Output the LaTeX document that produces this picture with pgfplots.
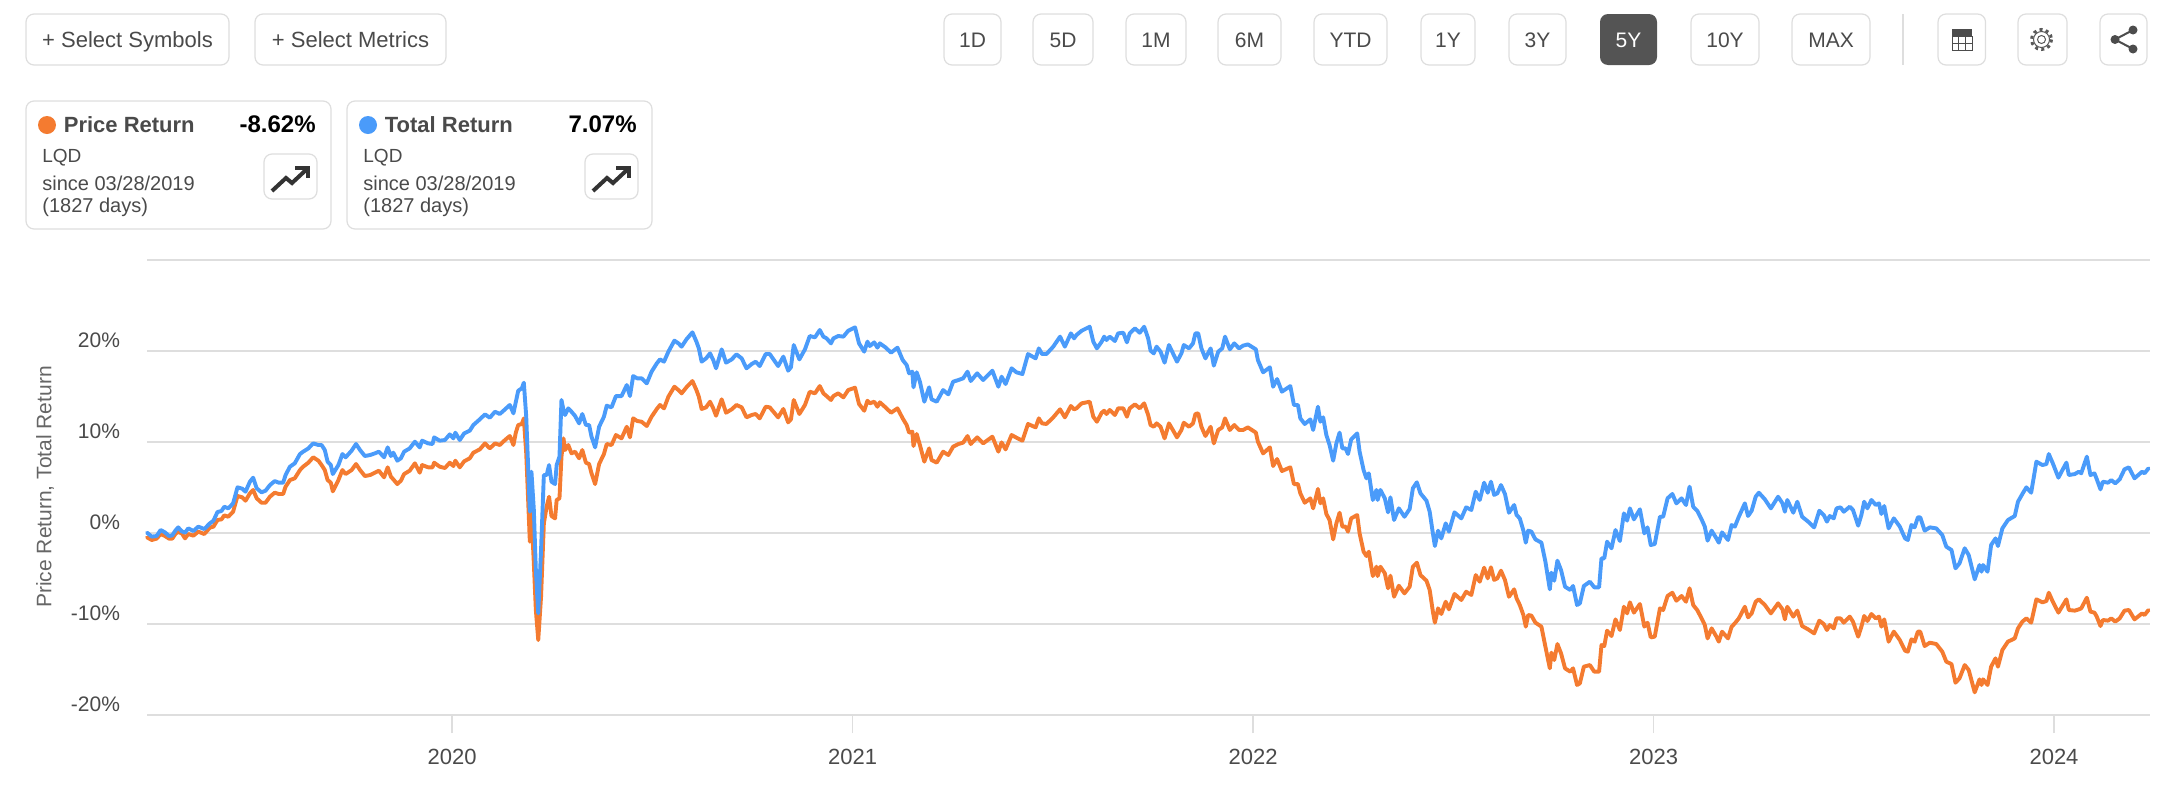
\documentclass[border=0pt]{standalone}
\usepackage{pgfplots}
\usepackage{pgfplotstable}
\usepackage{fontspec}
\setmainfont{Liberation Sans}
\pgfplotsset{compat=1.18}
\definecolor{txt}{HTML}{4A4A4A}
\definecolor{bord}{HTML}{DEDEDE}
\definecolor{ora}{HTML}{F47B30}
\definecolor{blu}{HTML}{4A9BFA}
\newcommand{\fs}[1]{\fontsize{#1}{#1}\selectfont}
\pgfplotstableread{
yr blue orange
2019.238 0.04 -0.48
2019.250 -0.40 -0.77
2019.262 -0.33 -0.62
2019.272 0.33 -0.11
2019.283 0.07 -0.33
2019.293 -0.33 -0.62
2019.301 -0.26 -0.62
2019.310 0.33 -0.04
2019.316 0.62 0.11
2019.325 0.18 -0.04
2019.333 0.04 -0.59
2019.341 0.51 -0.11
2019.354 0.22 -0.29
2019.366 0.70 0.15
2019.381 0.44 -0.11
2019.395 1.06 0.59
2019.404 1.36 0.70
2019.414 2.31 1.43
2019.424 2.42 1.50
2019.431 2.89 1.94
2019.441 2.71 1.79
2019.453 3.26 2.34
2019.464 5.02 4.07
2019.476 4.87 3.92
2019.484 4.54 3.55
2019.495 5.64 4.36
2019.503 6.08 4.73
2019.512 4.91 3.81
2019.524 4.47 3.33
2019.534 4.65 3.33
2019.545 5.27 3.99
2019.557 5.71 4.43
2019.567 5.53 4.29
2019.578 5.53 4.29
2019.584 6.37 5.09
2019.595 7.29 5.82
2019.607 7.66 6.01
2019.620 8.68 6.92
2019.628 8.94 7.29
2019.641 9.30 7.73
2019.653 9.85 8.32
2019.666 9.67 7.95
2019.674 9.67 7.47
2019.682 9.12 6.92
2019.689 7.84 5.82
2019.697 7.47 5.53
2019.702 6.48 4.58
2019.716 7.47 5.82
2019.726 8.68 6.92
2019.734 8.32 6.48
2019.749 9.05 6.92
2019.760 9.78 7.58
2019.770 9.12 6.92
2019.782 8.46 6.26
2019.795 8.57 6.37
2019.807 8.75 6.63
2019.817 8.94 6.85
2019.830 8.32 6.12
2019.839 9.41 7.22
2019.847 8.46 6.19
2019.853 8.83 5.90
2019.863 7.95 5.38
2019.872 8.21 5.75
2019.880 8.94 6.48
2019.894 9.30 6.85
2019.907 10.04 7.66
2019.919 9.41 6.63
2019.925 10.15 7.47
2019.940 9.85 7.22
2019.951 9.78 7.22
2019.955 10.51 7.73
2019.969 10.15 7.29
2019.982 10.22 7.14
2019.994 10.84 7.73
2020.003 10.40 7.36
2020.008 11.03 7.95
2020.019 10.22 7.22
2020.030 10.95 7.88
2020.044 11.25 8.21
2020.053 11.87 8.83
2020.069 12.49 9.19
2020.082 13.04 9.85
2020.094 12.67 9.30
2020.107 13.33 9.85
2020.119 13.08 9.67
2020.132 13.59 10.22
2020.144 14.07 10.66
2020.153 13.15 9.67
2020.159 14.40 11.03
2020.165 15.64 11.87
2020.174 15.90 11.98
2020.179 16.52 12.60
2020.185 12.78 8.75
2020.194 2.34 -0.95
2020.198 6.74 2.16
2020.204 2.53 -3.33
2020.209 -4.07 -8.46
2020.215 -8.83 -11.76
2020.222 -1.87 -7.00
2020.229 6.37 1.06
2020.236 6.37 2.89
2020.242 7.47 3.99
2020.248 5.64 1.87
2020.257 5.38 1.61
2020.261 7.47 3.63
2020.268 8.39 3.81
2020.273 14.62 8.39
2020.278 13.52 10.40
2020.282 12.97 9.12
2020.290 13.70 9.67
2020.298 13.33 8.75
2020.307 12.86 8.94
2020.317 12.05 8.21
2020.325 13.08 9.12
2020.334 11.87 7.73
2020.342 11.87 7.58
2020.348 10.59 6.56
2020.357 9.41 5.38
2020.367 11.68 7.58
2020.379 12.78 8.68
2020.386 13.99 9.78
2020.398 13.81 9.67
2020.409 15.05 10.77
2020.423 15.05 10.40
2020.436 16.26 11.68
2020.444 15.05 10.51
2020.452 17.25 12.60
2020.462 17.00 12.31
2020.473 17.00 12.23
2020.486 16.45 11.76
2020.498 17.73 12.78
2020.511 18.64 13.63
2020.519 19.08 14.07
2020.529 18.83 13.70
2020.540 19.93 14.98
2020.555 21.14 16.08
2020.565 20.84 15.71
2020.573 20.48 15.35
2020.585 21.28 16.01
2020.600 22.05 16.70
2020.610 21.03 15.71
2020.616 20.29 14.98
2020.623 18.83 13.63
2020.634 19.19 13.81
2020.644 19.74 14.43
2020.652 19.01 13.70
2020.659 18.10 12.89
2020.673 20.18 14.69
2020.684 18.72 13.22
2020.698 19.08 13.59
2020.710 19.63 14.07
2020.723 19.19 13.81
2020.735 18.10 12.71
2020.748 18.57 12.97
2020.758 18.83 13.08
2020.768 18.35 12.60
2020.783 19.67 13.88
2020.793 19.67 13.81
2020.814 18.35 12.71
2020.827 19.38 13.63
2020.839 17.84 12.16
2020.846 18.21 12.49
2020.853 20.66 14.62
2020.867 19.08 13.08
2020.881 20.18 14.07
2020.893 21.65 15.53
2020.906 21.50 15.35
2020.918 22.31 16.15
2020.927 21.58 15.35
2020.935 21.39 15.05
2020.946 20.84 14.62
2020.952 21.39 15.05
2020.964 21.65 15.35
2020.977 21.58 14.91
2020.989 22.23 15.71
2021.006 22.60 15.97
2021.016 20.84 14.18
2021.029 19.93 13.44
2021.037 21.03 14.54
2021.043 20.55 14.25
2021.054 20.95 14.43
2021.062 20.37 13.88
2021.068 20.84 14.36
2021.082 20.40 13.81
2021.096 19.82 13.22
2021.112 20.37 13.70
2021.125 19.01 12.60
2021.135 18.46 11.87
2021.141 17.55 11.03
2021.149 17.73 11.14
2021.152 16.01 9.56
2021.160 17.66 10.88
2021.168 16.63 9.67
2021.179 14.43 7.84
2021.191 16.01 9.30
2021.197 14.69 8.02
2021.210 14.43 7.73
2021.226 15.71 8.94
2021.239 15.24 8.57
2021.251 16.63 9.49
2021.264 16.81 9.78
2021.276 17.00 9.93
2021.287 17.73 10.66
2021.295 16.70 9.78
2021.311 17.55 10.51
2021.326 16.81 9.85
2021.349 17.84 10.59
2021.364 16.08 8.94
2021.372 17.18 9.96
2021.382 16.37 9.19
2021.397 18.10 10.77
2021.409 17.66 10.48
2021.424 17.47 10.15
2021.438 19.67 11.98
2021.457 19.19 11.61
2021.465 20.29 12.60
2021.473 19.67 12.05
2021.484 19.67 11.98
2021.501 20.48 12.71
2021.518 21.58 13.59
2021.530 20.48 12.71
2021.545 21.94 13.96
2021.553 21.39 13.59
2021.559 21.76 13.70
2021.572 22.23 14.25
2021.592 22.67 14.43
2021.601 21.03 12.78
2021.610 20.29 12.23
2021.622 21.03 13.22
2021.628 21.58 13.44
2021.634 21.21 13.08
2021.642 21.58 13.52
2021.655 21.10 12.97
2021.663 21.94 13.70
2021.676 22.01 13.70
2021.685 20.95 12.78
2021.692 21.94 13.70
2021.705 22.49 14.14
2021.717 22.01 13.70
2021.728 22.67 14.25
2021.738 21.39 12.97
2021.744 20.04 11.87
2021.752 19.74 11.68
2021.759 20.48 12.05
2021.769 19.93 11.68
2021.779 18.72 10.40
2021.790 20.66 12.05
2021.802 19.56 11.14
2021.810 18.83 10.51
2021.821 19.74 11.32
2021.827 20.66 12.12
2021.840 20.29 11.68
2021.850 20.84 12.05
2021.856 21.94 13.08
2021.863 21.94 13.15
2021.871 20.29 11.68
2021.881 19.19 10.66
2021.894 20.29 11.68
2021.902 18.39 9.85
2021.913 19.93 11.32
2021.923 20.29 11.61
2021.930 21.58 12.60
2021.942 20.18 11.32
2021.953 20.84 11.87
2021.965 20.29 11.32
2021.975 20.59 11.32
2021.987 20.73 11.61
2022.007 20.18 11.03
2022.012 19.01 10.04
2022.025 17.66 8.75
2022.042 18.21 9.41
2022.050 16.08 7.36
2022.060 16.92 8.13
2022.072 15.53 6.81
2022.093 16.15 7.22
2022.102 14.07 5.38
2022.112 14.07 5.38
2022.118 12.60 4.36
2022.129 11.98 3.33
2022.143 12.49 3.81
2022.150 11.32 2.71
2022.162 13.88 4.84
2022.168 12.23 3.26
2022.175 12.71 3.81
2022.183 10.77 2.09
2022.191 9.67 1.43
2022.200 7.95 -0.70
2022.208 9.85 1.06
2022.216 11.03 2.23
2022.223 9.30 0.70
2022.231 9.30 0.70
2022.237 8.68 0.15
2022.245 10.29 1.61
2022.260 10.95 1.98
2022.266 8.94 -0.04
2022.276 6.92 -2.05
2022.283 6.01 -2.53
2022.289 6.56 -2.05
2022.299 3.63 -4.73
2022.308 4.73 -3.70
2022.311 3.63 -4.73
2022.318 4.73 -3.70
2022.329 3.81 -4.43
2022.337 2.27 -6.08
2022.343 3.92 -4.69
2022.352 1.43 -7.00
2022.364 2.71 -5.79
2022.378 1.79 -6.63
2022.391 2.64 -5.90
2022.399 4.91 -3.70
2022.409 5.57 -3.26
2022.418 4.36 -4.62
2022.433 3.55 -5.24
2022.441 2.34 -6.26
2022.449 -0.04 -8.64
2022.454 -1.43 -9.85
2022.462 0.26 -8.28
2022.470 -0.59 -8.90
2022.481 1.06 -7.55
2022.489 0.15 -8.39
2022.503 2.27 -6.70
2022.520 1.61 -7.36
2022.532 2.82 -6.45
2022.545 2.53 -6.81
2022.556 4.54 -4.62
2022.566 3.63 -5.35
2022.577 5.53 -3.81
2022.586 4.43 -4.98
2022.594 5.64 -3.77
2022.602 4.18 -5.16
2022.610 4.36 -4.98
2022.619 5.27 -4.14
2022.629 4.29 -5.16
2022.639 2.23 -7.00
2022.652 3.08 -6.19
2022.658 1.98 -7.18
2022.666 1.61 -7.91
2022.675 0.26 -9.01
2022.681 -1.06 -10.29
2022.687 0.26 -9.01
2022.695 0.15 -9.08
2022.705 -0.70 -9.85
2022.720 -1.06 -10.29
2022.730 -3.15 -12.49
2022.741 -6.19 -14.87
2022.745 -4.36 -13.15
2022.752 -5.24 -13.96
2022.760 -3.04 -12.20
2022.769 -4.07 -13.22
2022.779 -5.90 -14.87
2022.792 -6.26 -15.24
2022.799 -5.82 -14.87
2022.809 -7.91 -16.70
2022.816 -7.73 -16.52
2022.826 -5.82 -14.69
2022.841 -5.35 -14.51
2022.852 -5.97 -15.24
2022.864 -5.97 -15.24
2022.870 -2.78 -12.31
2022.877 -2.78 -12.42
2022.884 -0.95 -10.73
2022.895 -1.68 -11.32
2022.905 0.33 -9.49
2022.916 -0.88 -10.66
2022.926 2.16 -8.10
2022.934 1.36 -8.83
2022.941 2.71 -7.62
2022.951 1.50 -8.75
2022.966 2.60 -7.80
2022.977 -0.04 -10.29
2022.985 0.62 -9.85
2022.993 -1.32 -11.47
2023.003 -1.21 -11.39
2023.016 1.79 -8.28
2023.024 1.79 -8.46
2023.035 3.81 -6.92
2023.047 4.29 -6.56
2023.057 3.26 -7.44
2023.070 3.81 -6.92
2023.081 3.08 -7.55
2023.090 5.09 -6.08
2023.099 2.89 -7.91
2023.109 2.45 -8.46
2023.120 1.50 -9.38
2023.128 0.70 -10.11
2023.135 -0.84 -11.58
2023.145 0.26 -10.48
2023.157 -0.59 -11.39
2023.163 -1.06 -11.94
2023.171 0.07 -10.84
2023.186 -0.77 -11.58
2023.195 0.88 -10.29
2023.203 0.70 -9.93
2023.213 1.79 -9.38
2023.228 3.26 -8.10
2023.236 1.87 -9.27
2023.245 2.45 -8.83
2023.255 3.99 -7.55
2023.263 4.43 -7.29
2023.278 3.70 -7.91
2023.293 2.71 -8.83
2023.311 3.99 -7.73
2023.322 3.26 -8.39
2023.328 2.34 -9.49
2023.334 3.63 -8.10
2023.349 2.23 -9.19
2023.359 3.44 -8.53
2023.371 1.79 -10.22
2023.386 1.25 -10.59
2023.401 0.62 -11.03
2023.414 2.45 -9.63
2023.425 1.98 -10.00
2023.433 1.25 -10.66
2023.440 1.87 -10.11
2023.450 1.61 -10.48
2023.457 2.71 -9.38
2023.467 2.82 -9.38
2023.475 2.34 -9.85
2023.490 2.89 -9.19
2023.498 2.53 -9.74
2023.511 0.81 -11.39
2023.519 1.98 -10.29
2023.526 3.44 -9.12
2023.534 2.71 -9.67
2023.544 3.63 -8.90
2023.555 3.08 -9.38
2023.563 3.26 -9.19
2023.569 2.09 -10.29
2023.576 2.97 -9.49
2023.587 0.51 -11.94
2023.600 1.61 -10.84
2023.615 0.70 -11.76
2023.628 -0.59 -12.93
2023.635 -0.77 -13.04
2023.644 0.88 -11.68
2023.652 0.62 -11.94
2023.660 1.72 -10.84
2023.666 1.72 -10.84
2023.677 0.26 -12.42
2023.690 0.62 -12.05
2023.706 0.51 -12.20
2023.721 -0.22 -13.04
2023.731 -1.50 -14.14
2023.744 -1.87 -14.40
2023.754 -3.88 -16.45
2023.764 -3.33 -15.97
2023.777 -1.68 -14.51
2023.787 -2.42 -15.05
2023.802 -5.09 -17.51
2023.814 -3.52 -16.08
2023.819 -4.25 -16.70
2023.823 -3.52 -16.08
2023.834 -4.25 -16.70
2023.843 -1.32 -14.69
2023.854 -0.59 -13.77
2023.860 -1.43 -14.69
2023.871 0.51 -12.86
2023.885 1.43 -11.94
2023.902 1.87 -11.58
2023.910 3.44 -10.48
2023.921 4.29 -9.74
2023.931 5.02 -9.38
2023.943 4.43 -9.85
2023.956 7.84 -7.29
2023.971 7.47 -7.62
2023.981 7.58 -7.47
2023.987 8.68 -6.56
2023.997 7.66 -7.55
2024.011 6.08 -8.75
2024.021 6.92 -8.02
2024.031 7.73 -7.29
2024.037 6.37 -8.46
2024.052 6.48 -8.53
2024.062 6.74 -8.39
2024.068 6.56 -8.28
2024.082 8.39 -7.11
2024.091 6.37 -8.64
2024.101 6.56 -8.75
2024.106 6.01 -9.12
2024.116 4.80 -10.22
2024.122 5.64 -9.56
2024.135 5.53 -9.63
2024.143 5.82 -9.38
2024.153 5.46 -9.74
2024.164 5.90 -9.38
2024.176 7.00 -8.53
2024.187 7.22 -8.46
2024.201 6.01 -9.49
2024.220 6.74 -8.83
2024.226 6.56 -9.01
2024.236 7.11 -8.46
}\lqddata
\begin{document}
\begin{tikzpicture}[x=0.5pt,y=-0.5pt,
  btn/.style={draw=bord,line width=0.6pt,rounded corners=4pt,fill=white},
  lab/.style={inner sep=0pt,text=txt}]
\path[use as bounding box] (0,0) rectangle (2174,788);
% top-left buttons
\draw[btn] (26,14) rectangle (229,65);
\node[lab,anchor=base,font=\fs{11}] at (127.5,47) {+ Select Symbols};
\draw[btn] (255,14) rectangle (446,65);
\node[lab,anchor=base,font=\fs{11}] at (350.5,47) {+ Select Metrics};
% range buttons
\foreach \a/\b/\t in {944/1001/1D,1033/1093/5D,1126/1186/1M,1218/1281/6M,1314/1387/YTD,1421/1475/1Y,1509/1566/3Y,1691/1759/10Y,1792/1870/MAX}{
  \draw[btn] (\a,14) rectangle (\b,65);
  \node[lab,anchor=base,font=\fs{10.5}] at ({(\a+\b)/2},47) {\t};
}
\fill[rounded corners=4pt,fill=black!67] (1600,14) rectangle (1657,65);
\node[inner sep=0pt,anchor=base,text=white,font=\fs{10.5}] at (1628.5,47) {5Y};
\draw[bord,line width=0.7pt] (1903,14) -- (1903,65);
\draw[btn] (1938,14) rectangle (1985.5,65);
\draw[btn] (2018,14) rectangle (2067,65);
\draw[btn] (2100,14) rectangle (2147,65);
% table icon
\fill[black!70] (1952,29) rectangle (1972,36);
\draw[black!70,line width=0.5pt] (1952,36) rectangle (1972,50) (1958.7,36)--(1958.7,50) (1965.3,36)--(1965.3,50) (1952,43)--(1972,43);
% gear icon
\draw[black!65,line width=0.5pt] (2041.5,39.5) circle (4);
\draw[black!65,line width=0.5pt] (2041.5,39.5) circle (8);
\draw[black!65,line width=1.5pt,dash pattern=on 1.5pt off 1.7pt] (2041.5,39.5) circle (10);
% share icon
\draw[black!70,line width=1pt] (2133,30)--(2115,39.5)--(2133,49);
\fill[black!70] (2133,30) circle (4.5) (2115,39.5) circle (4.5) (2133,49) circle (4.5);
% cards
\foreach \o/\title/\val/\col in {0/Price Return/-8.62\%/ora,321/Total Return/7.07\%/blu}{
  \begin{scope}[xshift=\o*0.5pt]
  \draw[btn] (26,101) rectangle (331,229);
  \fill[\col] (47,125) circle (9);
  \node[anchor=base west,lab,font=\fs{11}\bfseries] at (63.5,132) {\title};
  \node[anchor=base east,inner sep=0pt,text=black,font=\fs{12}\bfseries] at (316,132) {\val};
  \node[anchor=base west,lab,font=\fs{9.5}] at (42,162) {LQD};
  \node[anchor=base west,lab,font=\fs{10}] at (42,190) {since 03/28/2019};
  \node[anchor=base west,lab,font=\fs{10}] at (42,212) {(1827 days)};
  \draw[btn] (264,154) rectangle (317,199);
  \draw[black!80,line width=2pt,line join=miter] (272,191)--(286,178)--(292,183)--(307,169);
  \draw[black!80,line width=2pt] (295,168)--(308,168)--(308,178);
  \end{scope}
}
% y axis title
\node[rotate=90,lab,text=black!60,font=\fs{10.5}] at (45,487) {Price Return, Total Return};
\coordinate (A) at (147,715);
\begin{axis}[at={(A)},anchor=south west,scale only axis,width=1001.5pt,height=227.5pt,
  xmin=2019.238,xmax=2024.24,ymin=-20,ymax=30,clip=false,
  axis line style={draw=none},
  ymajorgrids,grid style={draw=bord,line width=1pt},
  xtick={2020,2021,2022,2023,2024},xticklabels={2020,2021,2022,2023,2024},
  ytick={-20,-10,0,10,20,30},yticklabels={-20\%,-10\%,0\%,10\%,20\%,},
  xtick pos=bottom,ytick pos=left,tick align=outside,
  x tick style={draw=bord,line width=0.8pt},y tick style={draw=none},
  major tick length=9pt,
  xticklabel style={font=\fs{11},text=txt,yshift=-4.5pt},
  yticklabel style={font=\fs{10.5},text=txt,anchor=east,yshift=5.5pt,xshift=-1pt},
  every axis plot/.append style={line width=1.95pt,line join=round,line cap=round,no marks}]
\addplot[ora] table[x=yr,y=orange]{\lqddata};
\addplot[blu] table[x=yr,y=blue]{\lqddata};
\end{axis}
\end{tikzpicture}
\end{document}
